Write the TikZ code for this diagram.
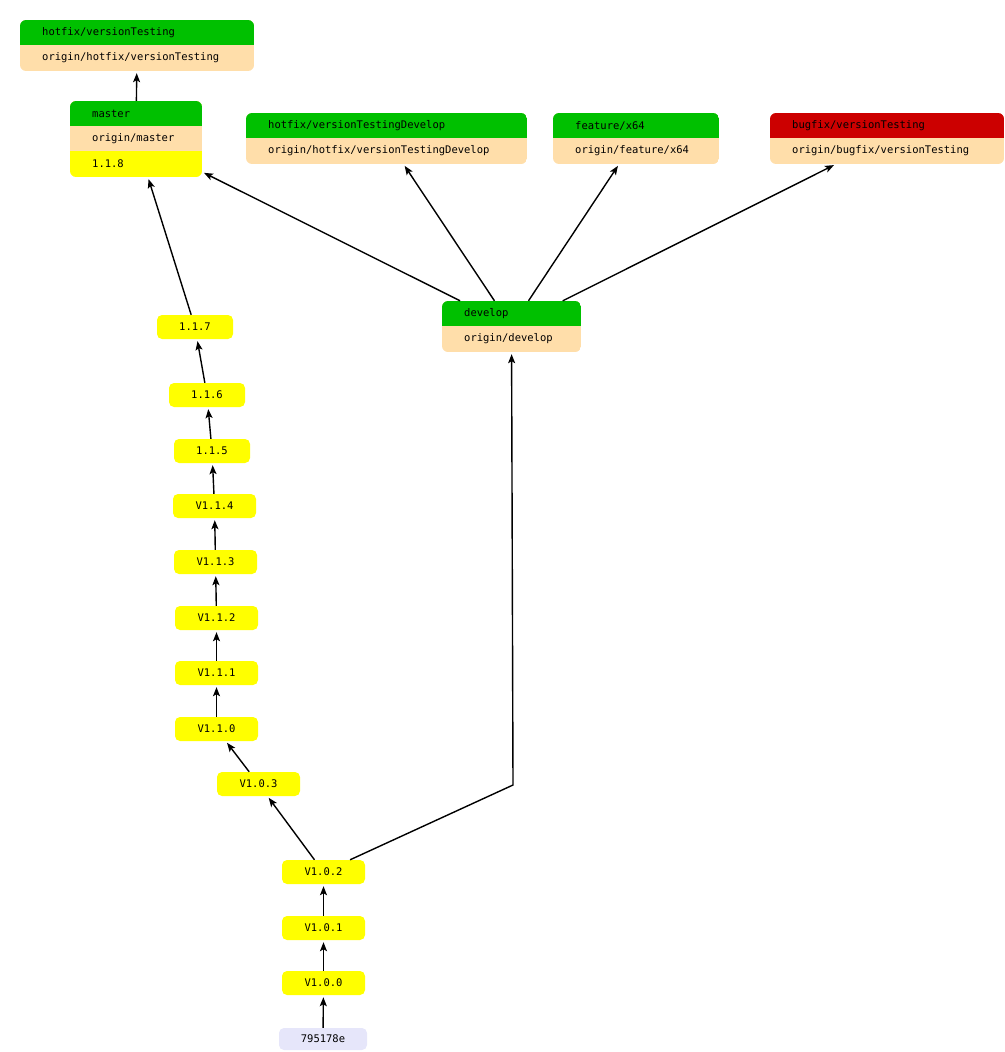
\documentclass[tikz,border=0pt]{standalone}
\usepackage{fontspec}
\setmonofont{DejaVu Sans Mono}
\usetikzlibrary{arrows.meta,fit}
\definecolor{gr}{HTML}{00C000}
\definecolor{pe}{HTML}{FFDEAA}
\definecolor{ye}{HTML}{FFFF00}
\definecolor{rd}{HTML}{CC0000}
\definecolor{lv}{HTML}{E6E6FA}
\tikzset{
  x=1pt,y=-1pt,
  txt/.style={anchor=west,inner sep=0,font=\ttfamily\fontsize{10.5}{12}\selectfont},
  single/.style={fill=ye,rounded corners=5pt,minimum height=24pt,inner sep=0,font=\ttfamily\fontsize{10.5}{12}\selectfont},
  edge/.style={line width=1.4pt,-{Stealth[length=9pt,width=7pt,inset=2pt]},shorten >=2pt},
}
% box: name, x1, y1, x2, y2
\newcommand\mkbox[5]{\node[fit={(#2,#3)(#4,#5)},inner sep=0] (#1) {};}
\begin{document}
\begin{tikzpicture}
\useasboundingbox (0,0) rectangle (1004,1052);
% hotfix/versionTesting
\begin{scope}\clip[rounded corners=6pt] (20,20) rectangle (254,71);
\fill[pe] (20,20) rectangle (254,71); \fill[gr] (20,20) rectangle (254,45);\end{scope}
\mkbox{hv}{20}{20}{254}{71}
\node[txt] at (42,32.5) {hotfix/versionTesting};
\node[txt] at (42,58) {origin/hotfix/versionTesting};
% master
\begin{scope}\clip[rounded corners=6pt] (70,101) rectangle (202,177);
\fill[ye] (70,101) rectangle (202,177); \fill[pe] (70,101) rectangle (202,151); \fill[gr] (70,101) rectangle (202,126);\end{scope}
\mkbox{master}{70}{101}{202}{177}
\node[txt] at (92,113.5) {master};
\node[txt] at (92,138.5) {origin/master};
\node[txt] at (92,164) {1.1.8};
% hotfix/versionTestingDevelop
\begin{scope}\clip[rounded corners=6pt] (246,113) rectangle (527,164);
\fill[pe] (246,113) rectangle (527,164); \fill[gr] (246,113) rectangle (527,138);\end{scope}
\mkbox{hvd}{246}{113}{527}{164}
\node[txt] at (268,125.5) {hotfix/versionTestingDevelop};
\node[txt] at (268,151) {origin/hotfix/versionTestingDevelop};
% feature/x64
\begin{scope}\clip[rounded corners=6pt] (553,113) rectangle (719,164);
\fill[pe] (553,113) rectangle (719,164); \fill[gr] (553,113) rectangle (719,138);\end{scope}
\mkbox{fx}{553}{113}{719}{164}
\node[txt] at (575,125.5) {feature/x64};
\node[txt] at (575,151) {origin/feature/x64};
% bugfix
\begin{scope}\clip[rounded corners=6pt] (770,113) rectangle (1004,164);
\fill[pe] (770,113) rectangle (1004,164); \fill[rd] (770,113) rectangle (1004,138);\end{scope}
\mkbox{bv}{770}{113}{1004}{164}
\node[txt] at (792,125.5) {bugfix/versionTesting};
\node[txt] at (792,151) {origin/bugfix/versionTesting};
% develop
\begin{scope}\clip[rounded corners=6pt] (442,301) rectangle (581,352);
\fill[pe] (442,301) rectangle (581,352); \fill[gr] (442,301) rectangle (581,326);\end{scope}
\mkbox{dev}{442}{301}{581}{352}
\node[txt] at (464,313.5) {develop};
\node[txt] at (464,339) {origin/develop};
% singles
\node[single,minimum width=76pt] (a117) at (195,327) {1.1.7};
\node[single,minimum width=76pt] (a116) at (207,395) {1.1.6};
\node[single,minimum width=76pt] (a115) at (212,451) {1.1.5};
\node[single,minimum width=83pt] (a114) at (214.5,506) {V1.1.4};
\node[single,minimum width=83pt] (a113) at (215.5,562) {V1.1.3};
\node[single,minimum width=83pt] (a112) at (216.5,618) {V1.1.2};
\node[single,minimum width=83pt] (a111) at (216.5,673) {V1.1.1};
\node[single,minimum width=83pt] (a110) at (216.5,729) {V1.1.0};
\node[single,minimum width=83pt] (a103) at (258.5,784) {V1.0.3};
\node[single,minimum width=83pt] (a102) at (323.5,872) {V1.0.2};
\node[single,minimum width=83pt] (a101) at (323.5,928) {V1.0.1};
\node[single,minimum width=83pt] (a100) at (323.5,983) {V1.0.0};
\node[single,fill=lv,minimum width=88pt,minimum height=22pt] (root) at (323,1039) {795178e};
\coordinate (bend) at (513,785);
% edges
\draw[edge] (master) -- (hv);
\draw[edge] (a117) -- (master);
\draw[edge] (dev) -- (master);
\draw[edge] (dev) -- (hvd);
\draw[edge] (dev) -- (fx);
\draw[edge] (dev) -- (bv);
\draw[edge] (a116) -- (a117);
\draw[edge] (a115) -- (a116);
\draw[edge] (a114) -- (a115);
\draw[edge] (a113) -- (a114);
\draw[edge] (a112) -- (a113);
\draw[edge] (a111) -- (a112);
\draw[edge] (a110) -- (a111);
\draw[edge] (a103) -- (a110);
\draw[edge] (a102) -- (a103);
\draw[edge] (a102) -- (bend) -- (dev);
\draw[edge] (a101) -- (a102);
\draw[edge] (a100) -- (a101);
\draw[edge] (root) -- (a100);
\end{tikzpicture}
\end{document}
